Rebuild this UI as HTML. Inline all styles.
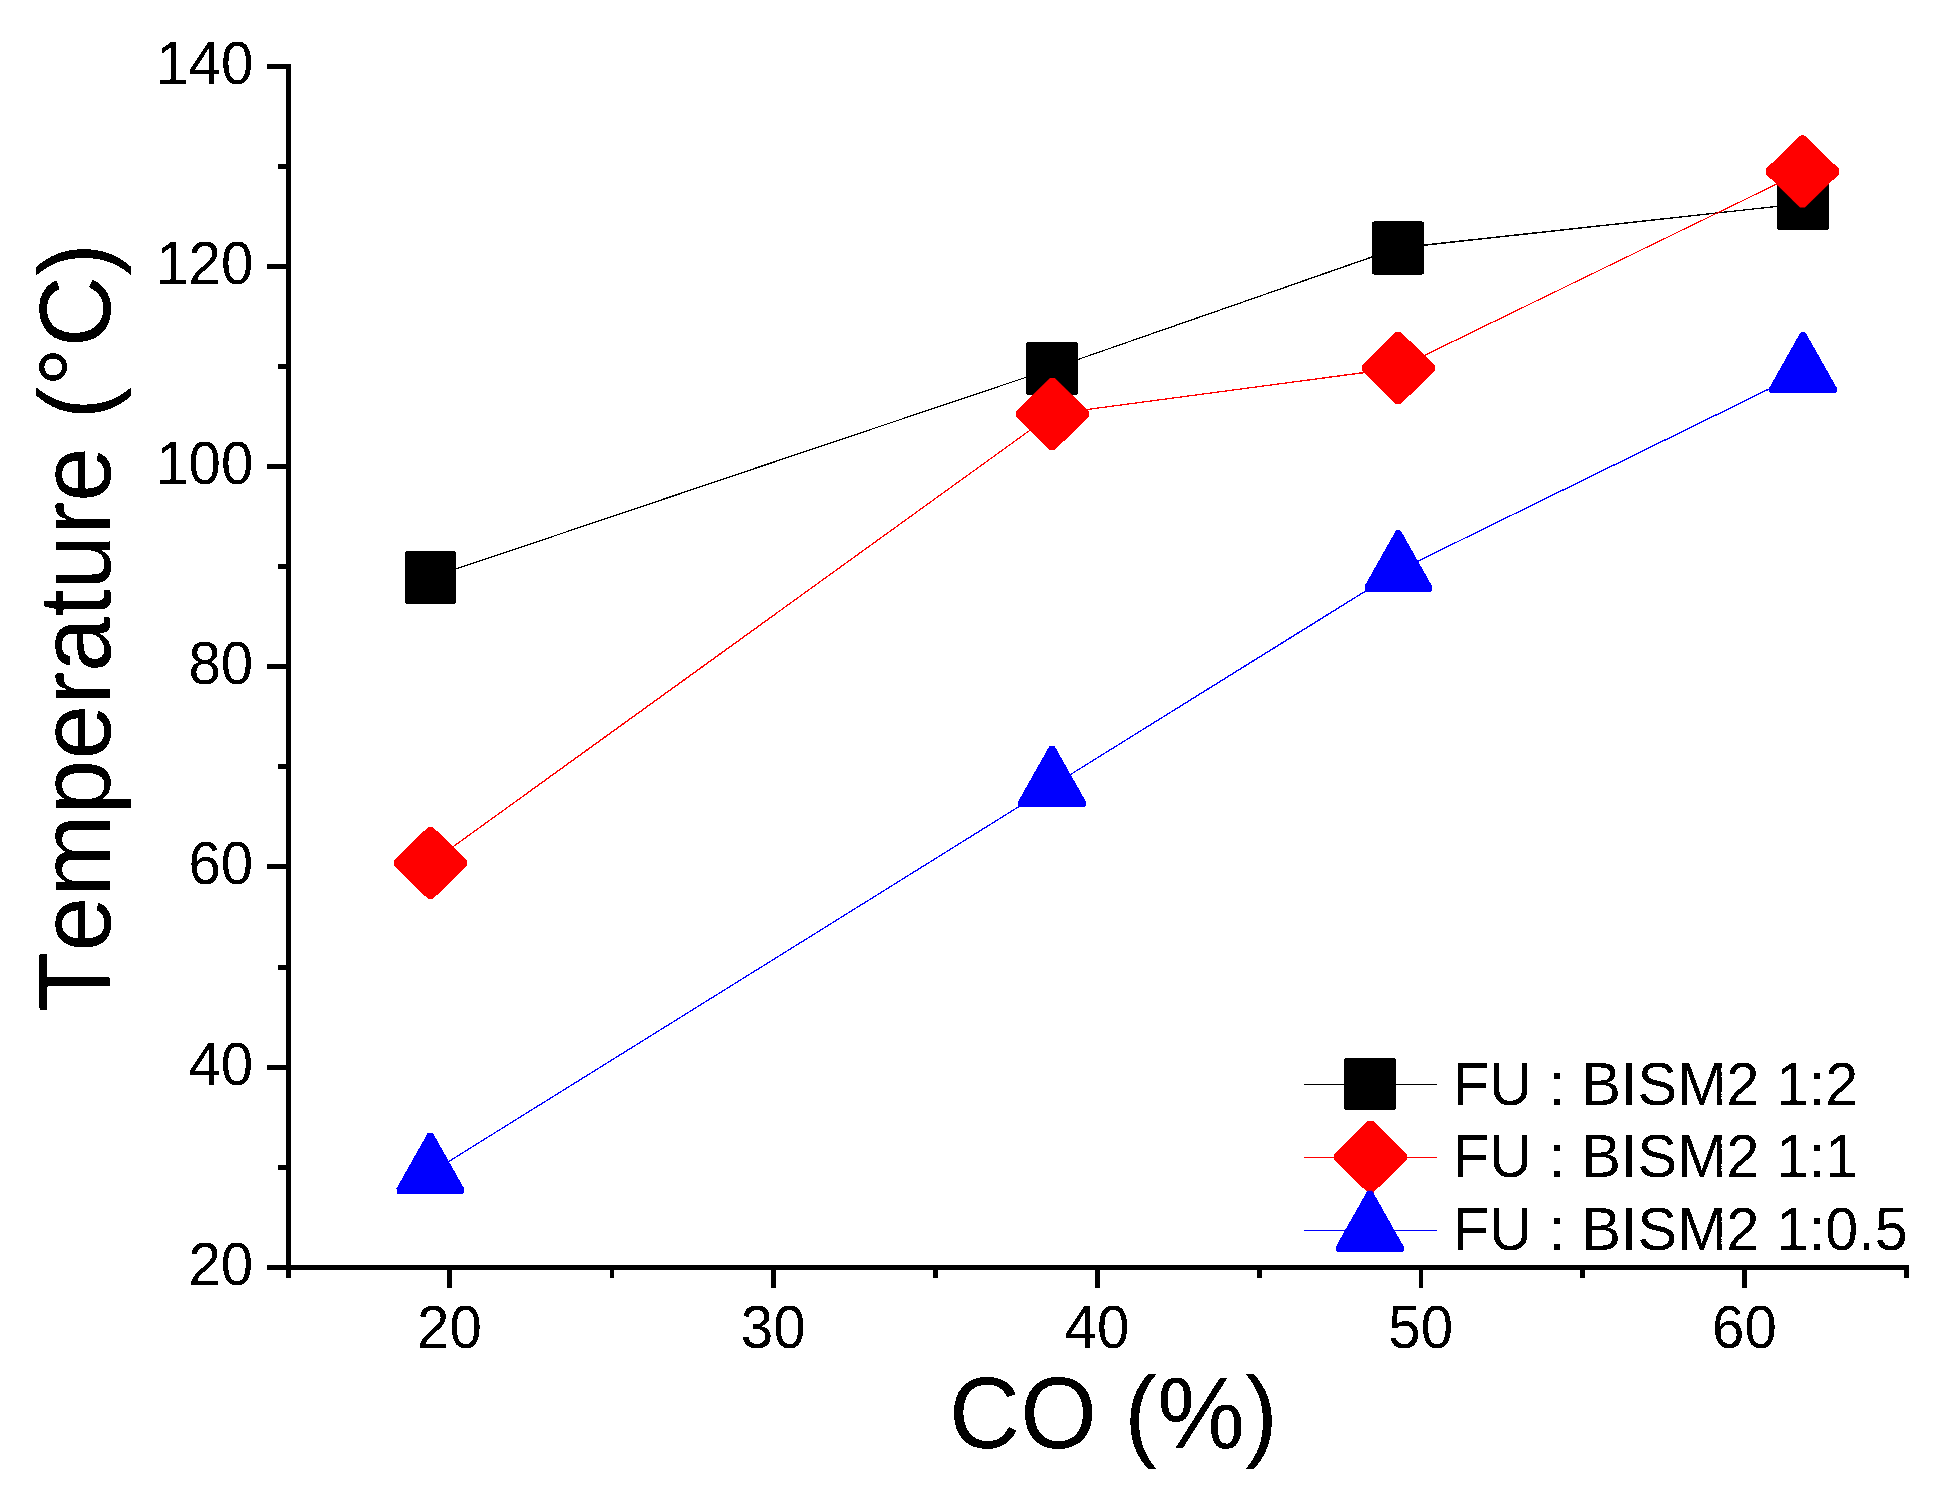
<!DOCTYPE html><html><head><meta charset="utf-8"><title>Temperature vs CO</title><style>html,body{margin:0;padding:0;background:#fff;}svg{display:block;}text{font-kerning:none;font-family:"Liberation Sans",Arial,sans-serif;fill:#000;}</style></head><body>
<svg width="1945" height="1490" viewBox="0 0 1945 1490">
<rect width="1945" height="1490" fill="#fff"/>
<defs><filter id="alias" x="0" y="0" width="100%" height="100%" filterUnits="userSpaceOnUse" color-interpolation-filters="sRGB"><feComponentTransfer><feFuncA type="discrete" tableValues="0 1"/></feComponentTransfer></filter></defs>
<g filter="url(#alias)">
<g fill="#000" shape-rendering="crispEdges">
<rect x="286" y="64" width="5" height="1214"/>
<rect x="286" y="1265" width="1623" height="5"/>
<rect x="267" y="1265" width="20" height="5"/>
<rect x="278" y="1165" width="9" height="5"/>
<rect x="267" y="1065" width="20" height="5"/>
<rect x="278" y="965" width="9" height="5"/>
<rect x="267" y="864" width="20" height="5"/>
<rect x="278" y="764" width="9" height="5"/>
<rect x="267" y="664" width="20" height="5"/>
<rect x="278" y="564" width="9" height="5"/>
<rect x="267" y="464" width="20" height="5"/>
<rect x="278" y="364" width="9" height="5"/>
<rect x="267" y="264" width="20" height="5"/>
<rect x="278" y="164" width="9" height="5"/>
<rect x="267" y="64" width="20" height="5"/>
<rect x="286" y="1269" width="5" height="9"/>
<rect x="447" y="1269" width="5" height="19"/>
<rect x="610" y="1269" width="4" height="9"/>
<rect x="771" y="1269" width="5" height="19"/>
<rect x="933" y="1269" width="5" height="9"/>
<rect x="1095" y="1269" width="5" height="19"/>
<rect x="1257" y="1269" width="5" height="9"/>
<rect x="1419" y="1269" width="4" height="19"/>
<rect x="1580" y="1269" width="5" height="9"/>
<rect x="1742" y="1269" width="5" height="19"/>
<rect x="1904" y="1269" width="5" height="9"/>
</g>
<g>
<text transform="translate(253.30,1284.90) scale(1,1.035)" font-size="58.3" text-anchor="end">20</text>
<text transform="translate(253.30,1084.90) scale(1,1.035)" font-size="58.3" text-anchor="end">40</text>
<text transform="translate(253.30,883.90) scale(1,1.035)" font-size="58.3" text-anchor="end">60</text>
<text transform="translate(253.30,683.90) scale(1,1.035)" font-size="58.3" text-anchor="end">80</text>
<text transform="translate(253.30,483.90) scale(1,1.035)" font-size="58.3" text-anchor="end">100</text>
<text transform="translate(253.30,283.90) scale(1,1.035)" font-size="58.3" text-anchor="end">120</text>
<text transform="translate(253.30,83.90) scale(1,1.035)" font-size="58.3" text-anchor="end">140</text>
</g>
<g>
<text transform="translate(449.50,1348.00) scale(1,1.035)" font-size="58.3" text-anchor="middle">20</text>
<text transform="translate(773.25,1348.00) scale(1,1.035)" font-size="58.3" text-anchor="middle">30</text>
<text transform="translate(1097.00,1348.00) scale(1,1.035)" font-size="58.3" text-anchor="middle">40</text>
<text transform="translate(1420.75,1348.00) scale(1,1.035)" font-size="58.3" text-anchor="middle">50</text>
<text transform="translate(1744.50,1348.00) scale(1,1.035)" font-size="58.3" text-anchor="middle">60</text>
</g>
<text transform="translate(948.90,1447.50) scale(1,1.035)" font-size="98.7">CO (%)</text>
<text transform="translate(110.50,1011.90) rotate(-90) scale(1,1.035)" font-size="98.7">Temperature (°C)</text>
<polyline points="430.5,577.5 1052.0,368.5 1398.0,248.0 1803.0,203.5" fill="none" stroke="#000" stroke-width="1.3"/>
<rect x="405.0" y="551.0" width="51" height="53" rx="2" fill="#000"/>
<rect x="1026.0" y="342.0" width="52" height="53" rx="2" fill="#000"/>
<rect x="1372.0" y="221.5" width="52" height="53.0" rx="2" fill="#000"/>
<rect x="1777.0" y="177.0" width="52" height="53" rx="2" fill="#000"/>
<polyline points="430.5,863.0 1052.4,414.0 1398.4,368.0 1802.5,171.5" fill="none" stroke="#f00" stroke-width="1.3"/>
<polygon points="428.1,826.9 432.9,826.9 467.1,860.6 467.1,865.4 432.9,899.1 428.1,899.1 393.9,865.4 393.9,860.6" fill="#f00"/>
<polygon points="1050.0,377.9 1054.8,377.9 1089.0,411.6 1089.0,416.4 1054.8,450.1 1050.0,450.1 1015.8,416.4 1015.8,411.6" fill="#f00"/>
<polygon points="1396.0,331.9 1400.8,331.9 1435.0,365.6 1435.0,370.4 1400.8,404.1 1396.0,404.1 1361.8,370.4 1361.8,365.6" fill="#f00"/>
<polygon points="1800.1,135.4 1804.9,135.4 1839.1,169.1 1839.1,173.9 1804.9,207.6 1800.1,207.6 1765.9,173.9 1765.9,169.1" fill="#f00"/>
<polyline points="430.3,1173.0 1052.0,786.0 1398.3,570.7 1803.0,372.4" fill="none" stroke="#00f" stroke-width="1.3"/>
<polygon points="427.90,1132.80 432.70,1132.80 464.00,1188.30 464.00,1192.80 463.00,1193.80 397.60,1193.80 396.60,1192.80 396.60,1188.30" fill="#00f"/>
<polygon points="1049.60,745.80 1054.40,745.80 1085.70,801.30 1085.70,805.80 1084.70,806.80 1019.30,806.80 1018.30,805.80 1018.30,801.30" fill="#00f"/>
<polygon points="1395.90,530.50 1400.70,530.50 1432.00,586.00 1432.00,590.50 1431.00,591.50 1365.60,591.50 1364.60,590.50 1364.60,586.00" fill="#00f"/>
<polygon points="1800.60,332.20 1805.40,332.20 1836.70,387.70 1836.70,392.20 1835.70,393.20 1770.30,393.20 1769.30,392.20 1769.30,387.70" fill="#00f"/>
<line x1="1304" y1="1084.5" x2="1437" y2="1084.5" stroke="#000" stroke-width="1.3"/>
<rect x="1344.0" y="1058.0" width="52" height="52" rx="2" fill="#000"/>
<line x1="1304" y1="1157.5" x2="1437" y2="1157.5" stroke="#f00" stroke-width="1.3"/>
<polygon points="1368.1,1120.7 1372.9,1120.7 1407.1,1154.4 1407.1,1159.2 1372.9,1192.9 1368.1,1192.9 1333.9,1159.2 1333.9,1154.4" fill="#f00"/>
<line x1="1304" y1="1230.5" x2="1437" y2="1230.5" stroke="#00f" stroke-width="1.3"/>
<polygon points="1367.40,1190.70 1372.20,1190.70 1403.50,1246.20 1403.50,1250.70 1402.50,1251.70 1337.10,1251.70 1336.10,1250.70 1336.10,1246.20" fill="#00f"/>
<g>
<text transform="translate(1453.10,1105.00) scale(1,1.035)" font-size="59.3">FU : BISM2 1:2</text>
<text transform="translate(1453.10,1177.00) scale(1,1.035)" font-size="59.3">FU : BISM2 1:1</text>
<text transform="translate(1453.10,1250.00) scale(1,1.035)" font-size="59.3">FU : BISM2 1:0.5</text>
</g>
</g>
</svg></body></html>
